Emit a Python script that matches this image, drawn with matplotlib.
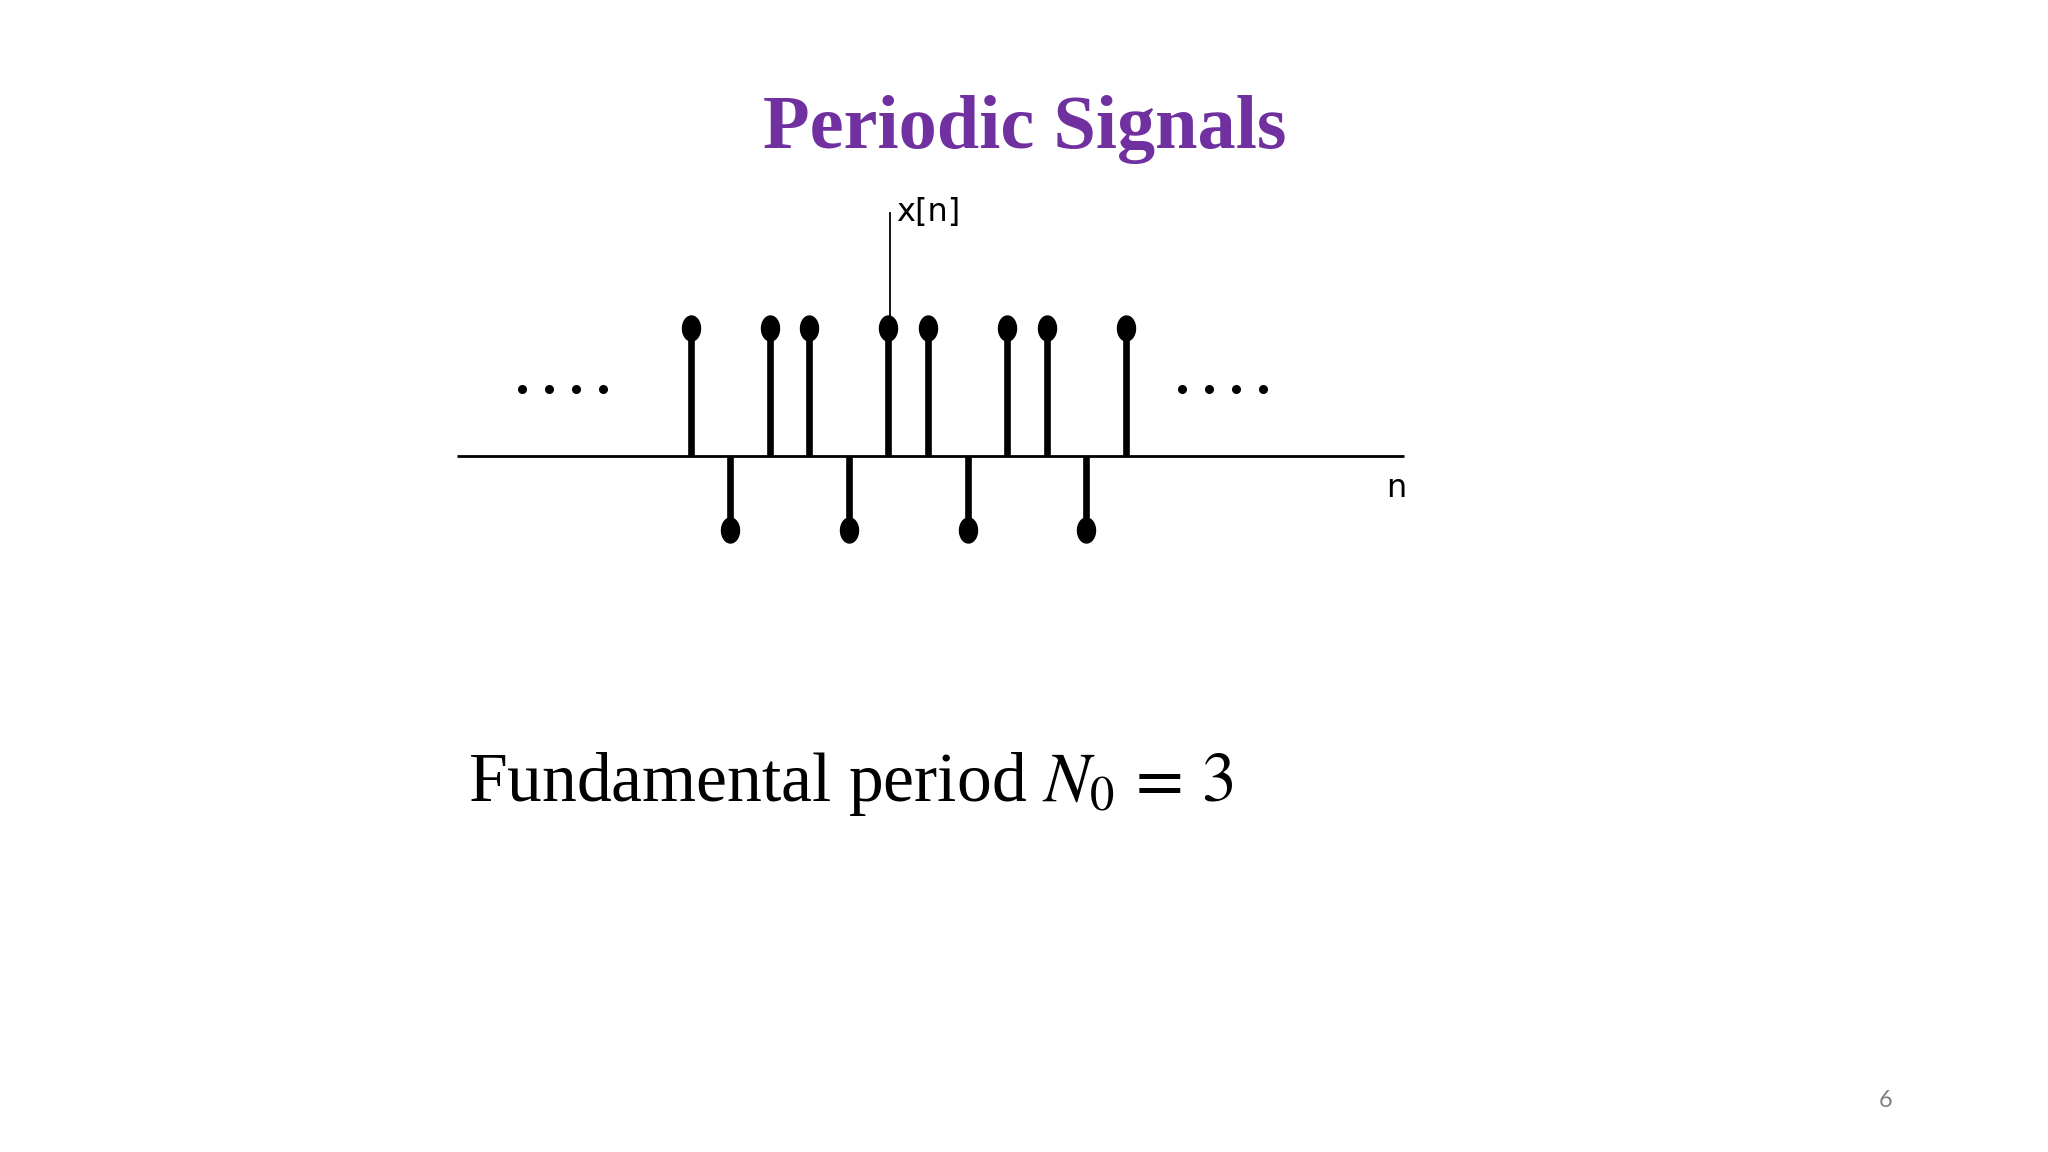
import numpy as np
import matplotlib
matplotlib.use('Agg')
import matplotlib.pyplot as plt
from matplotlib.path import Path

# signal values, period 3
n = np.arange(-5, 7)
x = np.array([1, -0.58, 1, 1, -0.58, 1, 1, -0.58, 1, 1, -0.58, 1])

# continuation dots on each side
dots_left = [-9.28, -8.6, -7.91, -7.23]
dots_right = [7.43, 8.11, 8.8, 9.48]
dots_y = 0.52

title = 'Periodic Signals'
caption = 'Fundamental period $N_0\\,=\\,3$'
page_no = '6'

plt.rcParams['mathtext.fontset'] = 'stix'

fig = plt.figure(figsize=(20.48, 11.52), dpi=100)
fig.patch.set_facecolor('white')
ax = fig.add_axes([0, 0, 1, 1])
ax.set_xlim(-22.49, 29.35)
ax.set_ylim(-5.4375, 3.5625)
ax.axis('off')

# axes of the sketch
ax.plot([-10.92, 13.05], [0, 0], color='black', lw=2.0, solid_capstyle='butt')
ax.plot([0.04, 0.04], [0, 1.9], color='black', lw=1.3)

# oval heads like the scanned figure
t = np.linspace(0, 2 * np.pi, 40)
oval = Path(np.column_stack([0.72 * np.cos(t), np.sin(t)]), closed=True)

ax.vlines(n, 0, x, color='black', lw=4.8)
ax.plot(n, x, linestyle='none', marker=oval, markersize=18, color='black')

ax.plot(dots_left, [dots_y] * 4, linestyle='none', marker='o', markersize=5.5, color='black')
ax.plot(dots_right, [dots_y] * 4, linestyle='none', marker='o', markersize=5.5, color='black')

ax.text(0.19, 2.02, 'x[n]', fontsize=23, family='DejaVu Sans', va='top', ha='left')
ax.text(12.6, -0.13, 'n', fontsize=23, family='DejaVu Sans', va='top', ha='left')

fig.text(1025 / 2048, 1 - 148 / 1152, title, fontsize=55, fontweight='bold',
         family='Liberation Serif', color='#7030A0', ha='center', va='baseline')
fig.text(468 / 2048, 1 - 801 / 1152, caption, fontsize=50,
         family='Liberation Serif', color='black', ha='left', va='baseline')
fig.text(1886 / 2048, 1 - 1107 / 1152, page_no, fontsize=17, family='Lato',
         color='#808080', ha='center', va='baseline')

fig.savefig('out.png', dpi=100, facecolor='white')
